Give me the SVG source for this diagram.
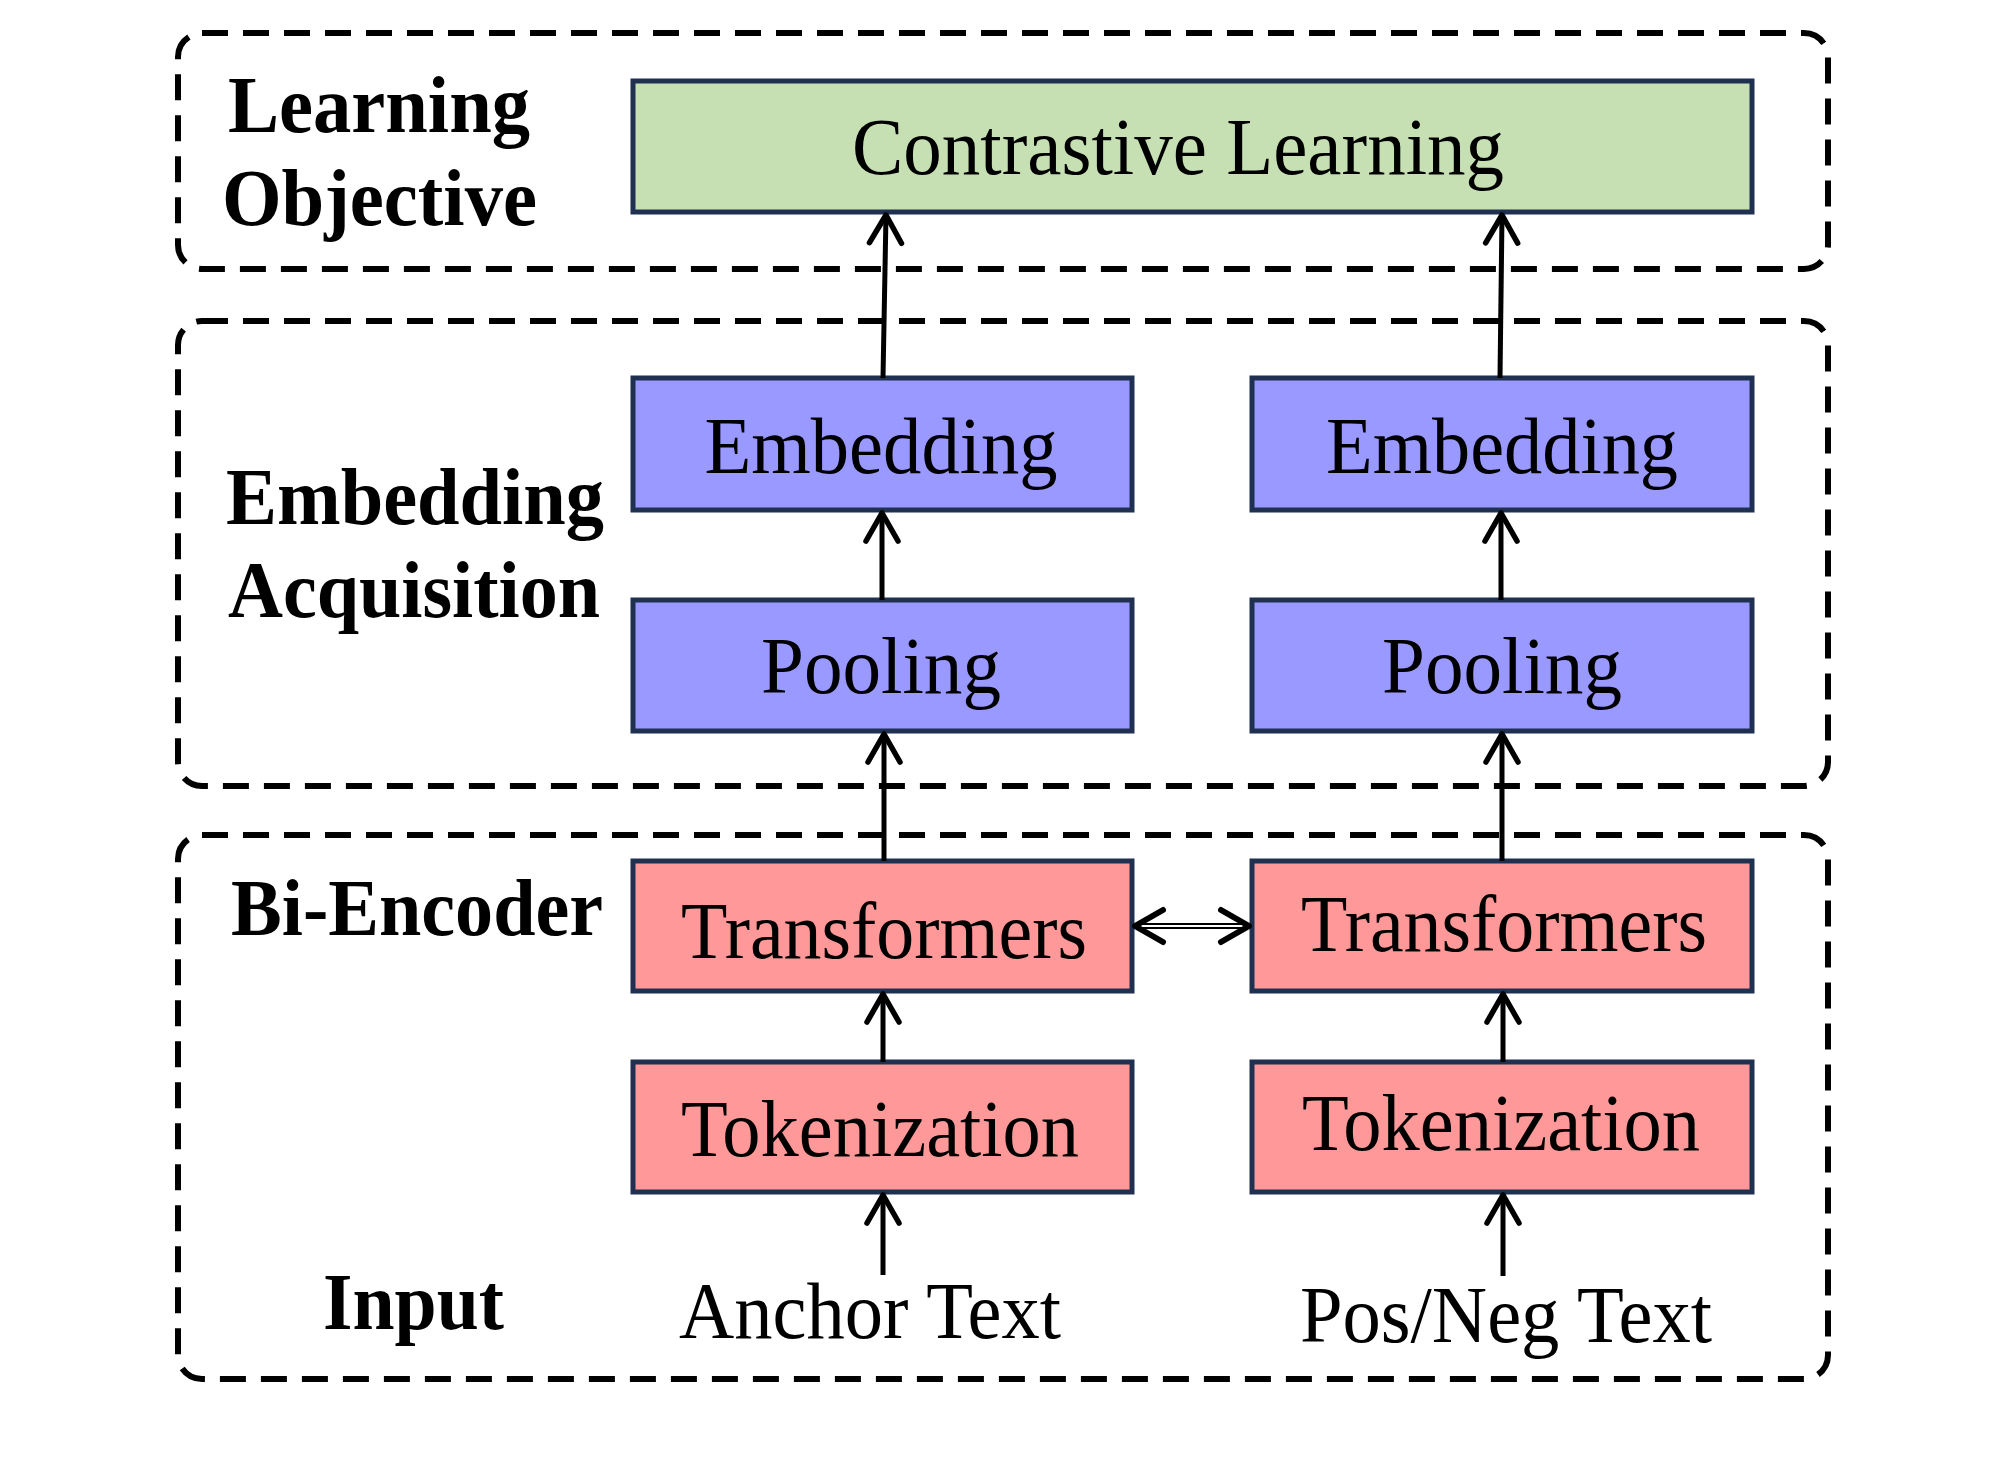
<svg xmlns="http://www.w3.org/2000/svg" width="1989" height="1476" viewBox="0 0 1989 1476">
<style>
.grp{fill:none;stroke:#000;stroke-width:6;stroke-dasharray:26 15}
.box{stroke:#1F3050;stroke-width:5}
.g{fill:#C6E0B4}.b{fill:#9999FF}.p{fill:#FF9999}
.t{font-family:"Liberation Serif","Times New Roman",serif;font-size:80px;fill:#000;text-anchor:middle}
.h{font-family:"Liberation Serif","Times New Roman",serif;font-size:80px;font-weight:bold;fill:#000}
.a{fill:none;stroke:#000;stroke-width:5}
</style>
<defs>
<marker id="ah" markerUnits="userSpaceOnUse" markerWidth="40" markerHeight="40" viewBox="-32 -20 40 40" refX="0" refY="0" orient="auto">
<path d="M-28,-16 L0,0 L-28,16" fill="none" stroke="#000" stroke-width="5.5" stroke-linecap="round" stroke-linejoin="round"/>
</marker>
</defs>
<rect width="1989" height="1476" fill="#fff"/>
<g id="groups">
<rect class="grp" x="178" y="33" width="1650" height="236" rx="24"/>
<rect class="grp" x="178" y="321" width="1650" height="465" rx="24"/>
<rect class="grp" x="178" y="835" width="1650" height="544" rx="24"/>
</g>
<g id="labels">
<text class="h" x="228" y="132" textLength="302" lengthAdjust="spacingAndGlyphs">Learning</text>
<text class="h" x="222" y="225" textLength="315" lengthAdjust="spacingAndGlyphs">Objective</text>
<text class="h" x="226" y="524" textLength="378" lengthAdjust="spacingAndGlyphs">Embedding</text>
<text class="h" x="228" y="617" textLength="372" lengthAdjust="spacingAndGlyphs">Acquisition</text>
<text class="h" x="231" y="935" textLength="372" lengthAdjust="spacingAndGlyphs">Bi-Encoder</text>
<text class="h" x="323" y="1329" textLength="181" lengthAdjust="spacingAndGlyphs">Input</text>
</g>
<g id="contrastive"><rect class="box g" x="633" y="81" width="1119" height="131"/><text class="t" x="1178" y="174" textLength="652" lengthAdjust="spacingAndGlyphs">Contrastive Learning</text></g>
<g id="emb-l"><rect class="box b" x="633" y="378" width="499" height="132"/><text class="t" x="881" y="473" textLength="353" lengthAdjust="spacingAndGlyphs">Embedding</text></g>
<g id="emb-r"><rect class="box b" x="1252" y="378" width="500" height="132"/><text class="t" x="1502" y="473" textLength="352" lengthAdjust="spacingAndGlyphs">Embedding</text></g>
<g id="pool-l"><rect class="box b" x="633" y="600" width="499" height="131"/><text class="t" x="881" y="693" textLength="240" lengthAdjust="spacingAndGlyphs">Pooling</text></g>
<g id="pool-r"><rect class="box b" x="1252" y="600" width="500" height="131"/><text class="t" x="1502" y="693" textLength="240" lengthAdjust="spacingAndGlyphs">Pooling</text></g>
<g id="trans-l"><rect class="box p" x="633" y="861" width="499" height="130"/><text class="t" x="884" y="958" textLength="406" lengthAdjust="spacingAndGlyphs">Transformers</text></g>
<g id="trans-r"><rect class="box p" x="1252" y="861" width="500" height="130"/><text class="t" x="1504" y="951" textLength="406" lengthAdjust="spacingAndGlyphs">Transformers</text></g>
<g id="tok-l"><rect class="box p" x="633" y="1062" width="499" height="130"/><text class="t" x="880" y="1156" textLength="398" lengthAdjust="spacingAndGlyphs">Tokenization</text></g>
<g id="tok-r"><rect class="box p" x="1252" y="1062" width="500" height="130"/><text class="t" x="1501" y="1150" textLength="398" lengthAdjust="spacingAndGlyphs">Tokenization</text></g>
<g id="anchor"><text class="t" x="870" y="1338" textLength="382" lengthAdjust="spacingAndGlyphs">Anchor Text</text></g>
<g id="posneg"><text class="t" x="1506" y="1342" textLength="412" lengthAdjust="spacingAndGlyphs">Pos/Neg Text</text></g>
<g id="connectors">
<line class="a" x1="883" y1="378" x2="886" y2="215" marker-end="url(#ah)"/>
<line class="a" x1="1500" y1="378" x2="1502" y2="215" marker-end="url(#ah)"/>
<line class="a" x1="882" y1="600" x2="882" y2="513" marker-end="url(#ah)"/>
<line class="a" x1="1501" y1="600" x2="1501" y2="513" marker-end="url(#ah)"/>
<line class="a" x1="884" y1="861" x2="884" y2="734" marker-end="url(#ah)"/>
<line class="a" x1="1502" y1="861" x2="1502" y2="734" marker-end="url(#ah)"/>
<line class="a" x1="883" y1="1062" x2="883" y2="994" marker-end="url(#ah)"/>
<line class="a" x1="1503" y1="1062" x2="1503" y2="994" marker-end="url(#ah)"/>
<line class="a" x1="883" y1="1275" x2="883" y2="1195" marker-end="url(#ah)"/>
<line class="a" x1="1503" y1="1276" x2="1503" y2="1195" marker-end="url(#ah)"/>
<line x1="1138" y1="926" x2="1246" y2="926" stroke="#000" stroke-width="6"/>
<line x1="1140" y1="926" x2="1244" y2="926" stroke="#fff" stroke-width="2"/>
<path d="M1163,910 L1135,926 L1163,942 M1221,910 L1249,926 L1221,942" fill="none" stroke="#000" stroke-width="6" stroke-linecap="round" stroke-linejoin="round"/>
</g>
</svg>
